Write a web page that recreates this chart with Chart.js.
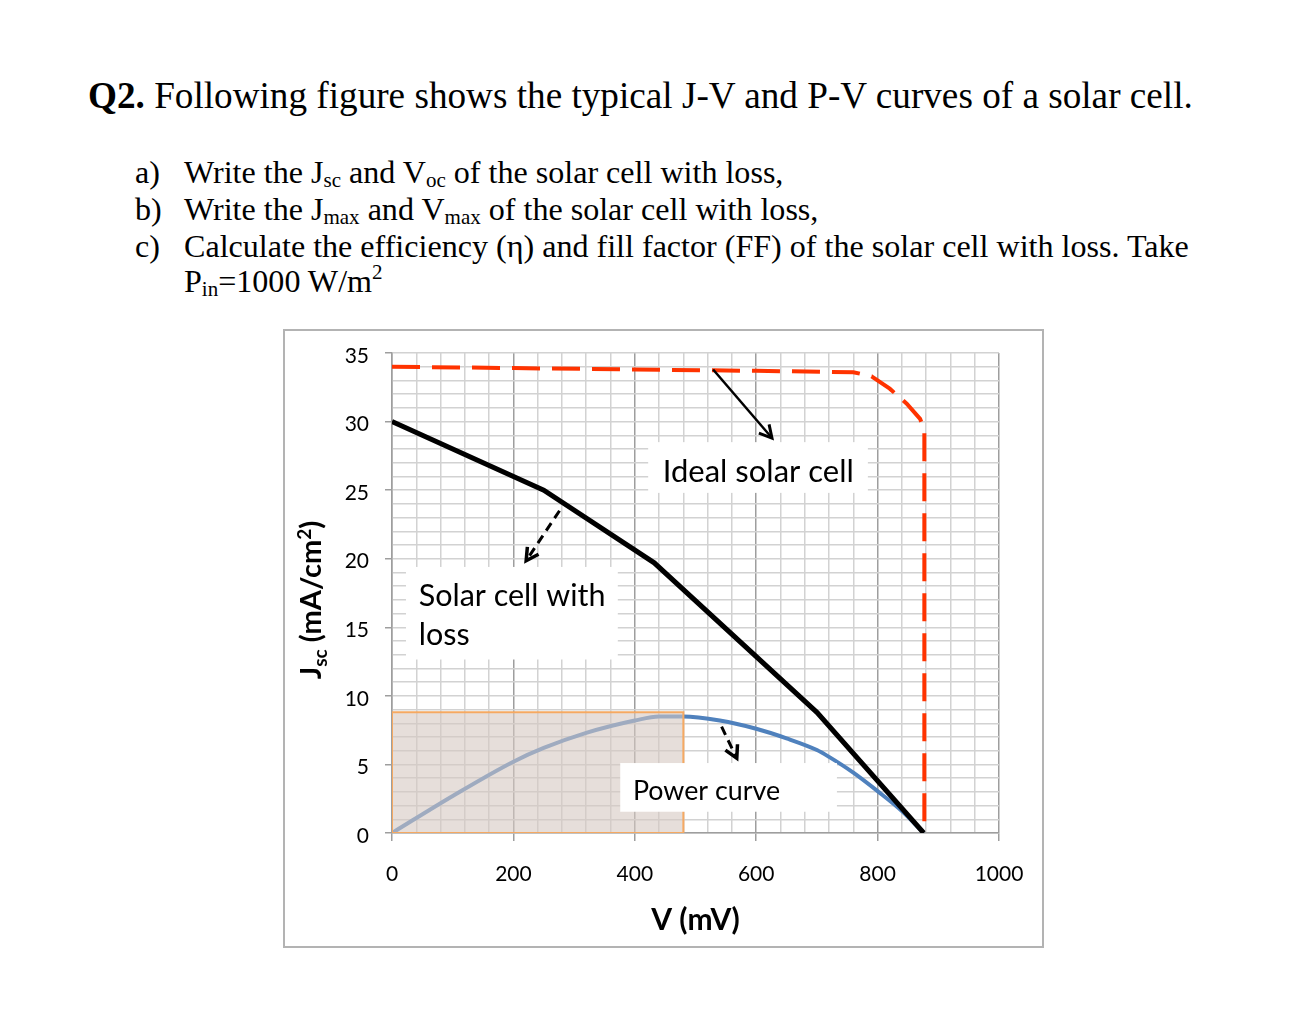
<!DOCTYPE html>
<html>
<head>
<meta charset="utf-8">
<title>J-V and P-V curves</title>
<script src="https://cdn.jsdelivr.net/npm/chart.js@4.4.0/dist/chart.umd.min.js"></script>
<style>
  body { margin: 0; width: 1294px; height: 1026px; position: relative; overflow: hidden; background: #fff;
         font-family: "Liberation Serif", "Times New Roman", serif; color: #000; }
  .ln { position: absolute; white-space: nowrap; line-height: 1; }
  .q { font-size: 37.2px; left: 88px; top: 77px; }
  .it { font-size: 32.1px; }
  .it sub { font-size: 21px; vertical-align: -4px; line-height: 0; }
  .it sup { font-size: 21px; vertical-align: 13px; line-height: 0; }
  #frame { position: absolute; left: 283px; top: 329px; width: 761px; height: 619px;
           box-sizing: border-box; border: 2px solid #B3B3B3; }
  #frame canvas { position: absolute; left: 0; top: 0; }
</style>
</head>
<body>
<div class="ln q"><b>Q2.</b> Following figure shows the typical J-V and P-V curves of a solar cell.</div>
<div class="ln it" style="left:135px;top:156px">a)</div>
<div class="ln it" style="left:184px;top:156px">Write the J<sub>sc</sub> and V<sub>oc</sub> of the solar cell with loss,</div>
<div class="ln it" style="left:135px;top:193px">b)</div>
<div class="ln it" style="left:184px;top:193px">Write the J<sub>max</sub> and V<sub>max</sub> of the solar cell with loss,</div>
<div class="ln it" style="left:135px;top:230px">c)</div>
<div class="ln it" style="left:184px;top:230px">Calculate the efficiency (η) and fill factor (FF) of the solar cell with loss. Take</div>
<div class="ln it" style="left:184px;top:265px">P<sub>in</sub>=1000 W/m<sup>2</sup></div>

<div id="frame"><canvas id="jv" width="757" height="615"></canvas></div>

<script>
// values (V in mV, J in mA/cm2)
const idealV = [0, 200, 400, 600, 760, 790, 820, 848, 870, 877, 877];
const idealJ = [34, 33.9, 33.8, 33.7, 33.6, 33.3, 32.4, 31.3, 30.2, 29.4, 0];

const lossV = [0, 250, 432, 700, 876];
const lossJ = [30, 25, 19.7, 8.8, 0];

const powerV = [0, 100, 200, 250, 320, 400, 440, 480, 540, 600, 650, 700, 720, 760, 800, 840, 876];
const powerP = [0, 2.7, 5.2, 6.2, 7.3, 8.2, 8.5, 8.5, 8.2, 7.6, 6.9, 6.05, 5.55, 4.4, 3.05, 1.6, 0];

// max power rectangle (Vmax, Jmax corner)
const rectV = [0, 0, 480, 480, 0];
const rectJ = [0, 8.8, 8.8, 0, 0];
const rectTopV = [0, 480];
const rectTopJ = [8.8, 8.8];

const xTickLabels = [0, 200, 400, 600, 800, 1000];
const yTickLabels = [0, 5, 10, 15, 20, 25, 30, 35];

const pts = (xs, ys) => xs.map((v, i) => ({ x: v, y: ys[i] }));

// callouts, in data units
const boxes = [
  { v0: 422, v1: 784, j0: 28.5, j1: 24.8, lines: ['Ideal solar cell'], tv: 446, tj: [25.6], size: 31 },
  { v0: 23, v1: 372, j0: 19.4, j1: 12.65, lines: ['Solar cell with', 'loss'], tv: 44, tj: [16.55, 13.7], size: 30.5 },
  { v0: 376, v1: 733, j0: 5.1, j1: 1.55, lines: ['Power curve'], tv: 397, tj: [2.4], size: 26.8 }
];
const arrows = [
  { v0: 529, j0: 33.8, v1: 626, j1: 28.8, dash: [], w: 2.5 },
  { v0: 276, j0: 23.5, v1: 221, j1: 19.85, dash: [9, 6], w: 3 },
  { v0: 543, j0: 7.75, v1: 568, j1: 5.45, dash: [9, 6], w: 3 }
];

function drawArrow(ctx, x1, y1, x2, y2, dash, w) {
  ctx.save();
  ctx.strokeStyle = '#000';
  ctx.lineWidth = w;
  ctx.setLineDash(dash);
  ctx.beginPath();
  ctx.moveTo(x1, y1);
  ctx.lineTo(x2, y2);
  ctx.stroke();
  ctx.setLineDash([]);
  ctx.lineWidth = w + 0.5;
  const a = Math.atan2(y2 - y1, x2 - x1), h = 14;
  ctx.beginPath();
  ctx.moveTo(x2 - h * Math.cos(a - 0.5), y2 - h * Math.sin(a - 0.5));
  ctx.lineTo(x2, y2);
  ctx.lineTo(x2 - h * Math.cos(a + 0.5), y2 - h * Math.sin(a + 0.5));
  ctx.stroke();
  ctx.restore();
}

const callouts = {
  id: 'callouts',
  afterDatasetsDraw(chart) {
    const { ctx, scales: { x, y } } = chart;
    ctx.save();
    boxes.forEach(b => {
      const l = x.getPixelForValue(b.v0), r = x.getPixelForValue(b.v1);
      const t = y.getPixelForValue(b.j0), bt = y.getPixelForValue(b.j1);
      ctx.fillStyle = '#fff';
      ctx.fillRect(l, t, r - l, bt - t);
      ctx.fillStyle = '#000';
      ctx.font = b.size + 'px Lato';
      ctx.textBaseline = 'alphabetic';
      b.lines.forEach((s, i) => ctx.fillText(s, x.getPixelForValue(b.tv), y.getPixelForValue(b.tj[i])));
    });
    arrows.forEach(a => drawArrow(ctx, x.getPixelForValue(a.v0), y.getPixelForValue(a.j0),
                                   x.getPixelForValue(a.v1), y.getPixelForValue(a.j1), a.dash, a.w));
    ctx.restore();
  }
};

const axisTitles = {
  id: 'axisTitles',
  afterDraw(chart) {
    const { ctx, chartArea: ca } = chart;
    ctx.save();
    ctx.fillStyle = '#000';
    ctx.textBaseline = 'middle';
    ctx.textAlign = 'center';
    ctx.font = 'bold 30px Lato';
    ctx.fillText('V (mV)', (ca.left + ca.right) / 2, ca.bottom + 87);

    // rotated y title with sub/superscript
    const parts = [
      { s: 'J', f: 'bold 29px Lato', dy: 0 },
      { s: 'sc', f: 'bold 19px Lato', dy: 6 },
      { s: ' (mA/cm', f: 'bold 29px Lato', dy: 0 },
      { s: '2', f: 'bold 19px Lato', dy: -10 },
      { s: ')', f: 'bold 29px Lato', dy: 0 }
    ];
    ctx.textAlign = 'left';
    ctx.textBaseline = 'alphabetic';
    let total = 0;
    parts.forEach(p => { ctx.font = p.f; p.w = ctx.measureText(p.s).width; total += p.w; });
    ctx.translate(ca.left - 81, (ca.top + ca.bottom) / 2 + 7);
    ctx.rotate(-Math.PI / 2);
    let cx = -total / 2;
    parts.forEach(p => { ctx.font = p.f; ctx.fillText(p.s, cx, 10 + p.dy); cx += p.w; });
    ctx.restore();
  }
};

const minorX = '#D2D2D2', majorX = '#9E9E9E', none = 'rgba(0,0,0,0)';

new Chart(document.getElementById('jv').getContext('2d'), {
  type: 'line',
  data: {
    datasets: [
      { data: pts(rectV, rectJ), borderColor: '#F5A962', borderWidth: 2, pointRadius: 0, fill: false, tension: 0 },
      { data: pts(rectTopV, rectTopJ), borderWidth: 0, borderColor: none, pointRadius: 0,
        fill: 'origin', backgroundColor: 'rgba(213,200,193,0.6)' },
      { data: pts(idealV, idealJ), borderColor: '#FF3300', borderWidth: 4, borderDash: [28, 12],
        pointRadius: 0, fill: false, tension: 0 },
      { data: pts(lossV, lossJ), borderColor: '#000', borderWidth: 5, pointRadius: 0, fill: false, tension: 0 },
      { data: pts(powerV, powerP), borderColor: '#4F81BD', borderWidth: 4, pointRadius: 0, fill: false,
        cubicInterpolationMode: 'monotone' }
    ]
  },
  options: {
    responsive: false,
    devicePixelRatio: 1,
    animation: false,
    layout: { padding: { left: 0, right: 43, top: 22, bottom: 0 } },
    plugins: { legend: { display: false }, tooltip: { enabled: false } },
    scales: {
      x: {
        type: 'linear', min: 0, max: 1000,
        ticks: { stepSize: 40, autoSkip: false, maxRotation: 0, padding: 21, color: '#000',
                 font: { family: 'Lato', size: 21 },
                 callback: v => xTickLabels.includes(v) ? String(v) : '' },
        grid: { lineWidth: 1.5, tickLength: 8,
                color: c => (c.tick && c.tick.value % 200 === 0) ? majorX : minorX,
                tickColor: c => (c.tick && c.tick.value % 200 === 0) ? majorX : none },
        border: { color: majorX, width: 1.5 },
        afterFit: s => { s.height = 113; s.paddingLeft = 0; s.paddingRight = 0; }
      },
      y: {
        type: 'linear', min: 0, max: 35,
        ticks: { stepSize: 1, autoSkip: false, padding: 16, labelOffset: 3, color: '#000',
                 font: { family: 'Lato', size: 21 },
                 callback: v => yTickLabels.includes(v) ? String(v) : '' },
        grid: { lineWidth: 1.5, tickLength: 7, color: minorX,
                tickColor: c => (c.tick && c.tick.value % 5 === 0) ? majorX : none },
        border: { color: majorX, width: 1.5 },
        afterFit: s => { s.width = 107; s.paddingTop = 0; s.paddingBottom = 0; }
      }
    }
  },
  plugins: [callouts, axisTitles]
});
</script>
</body>
</html>
